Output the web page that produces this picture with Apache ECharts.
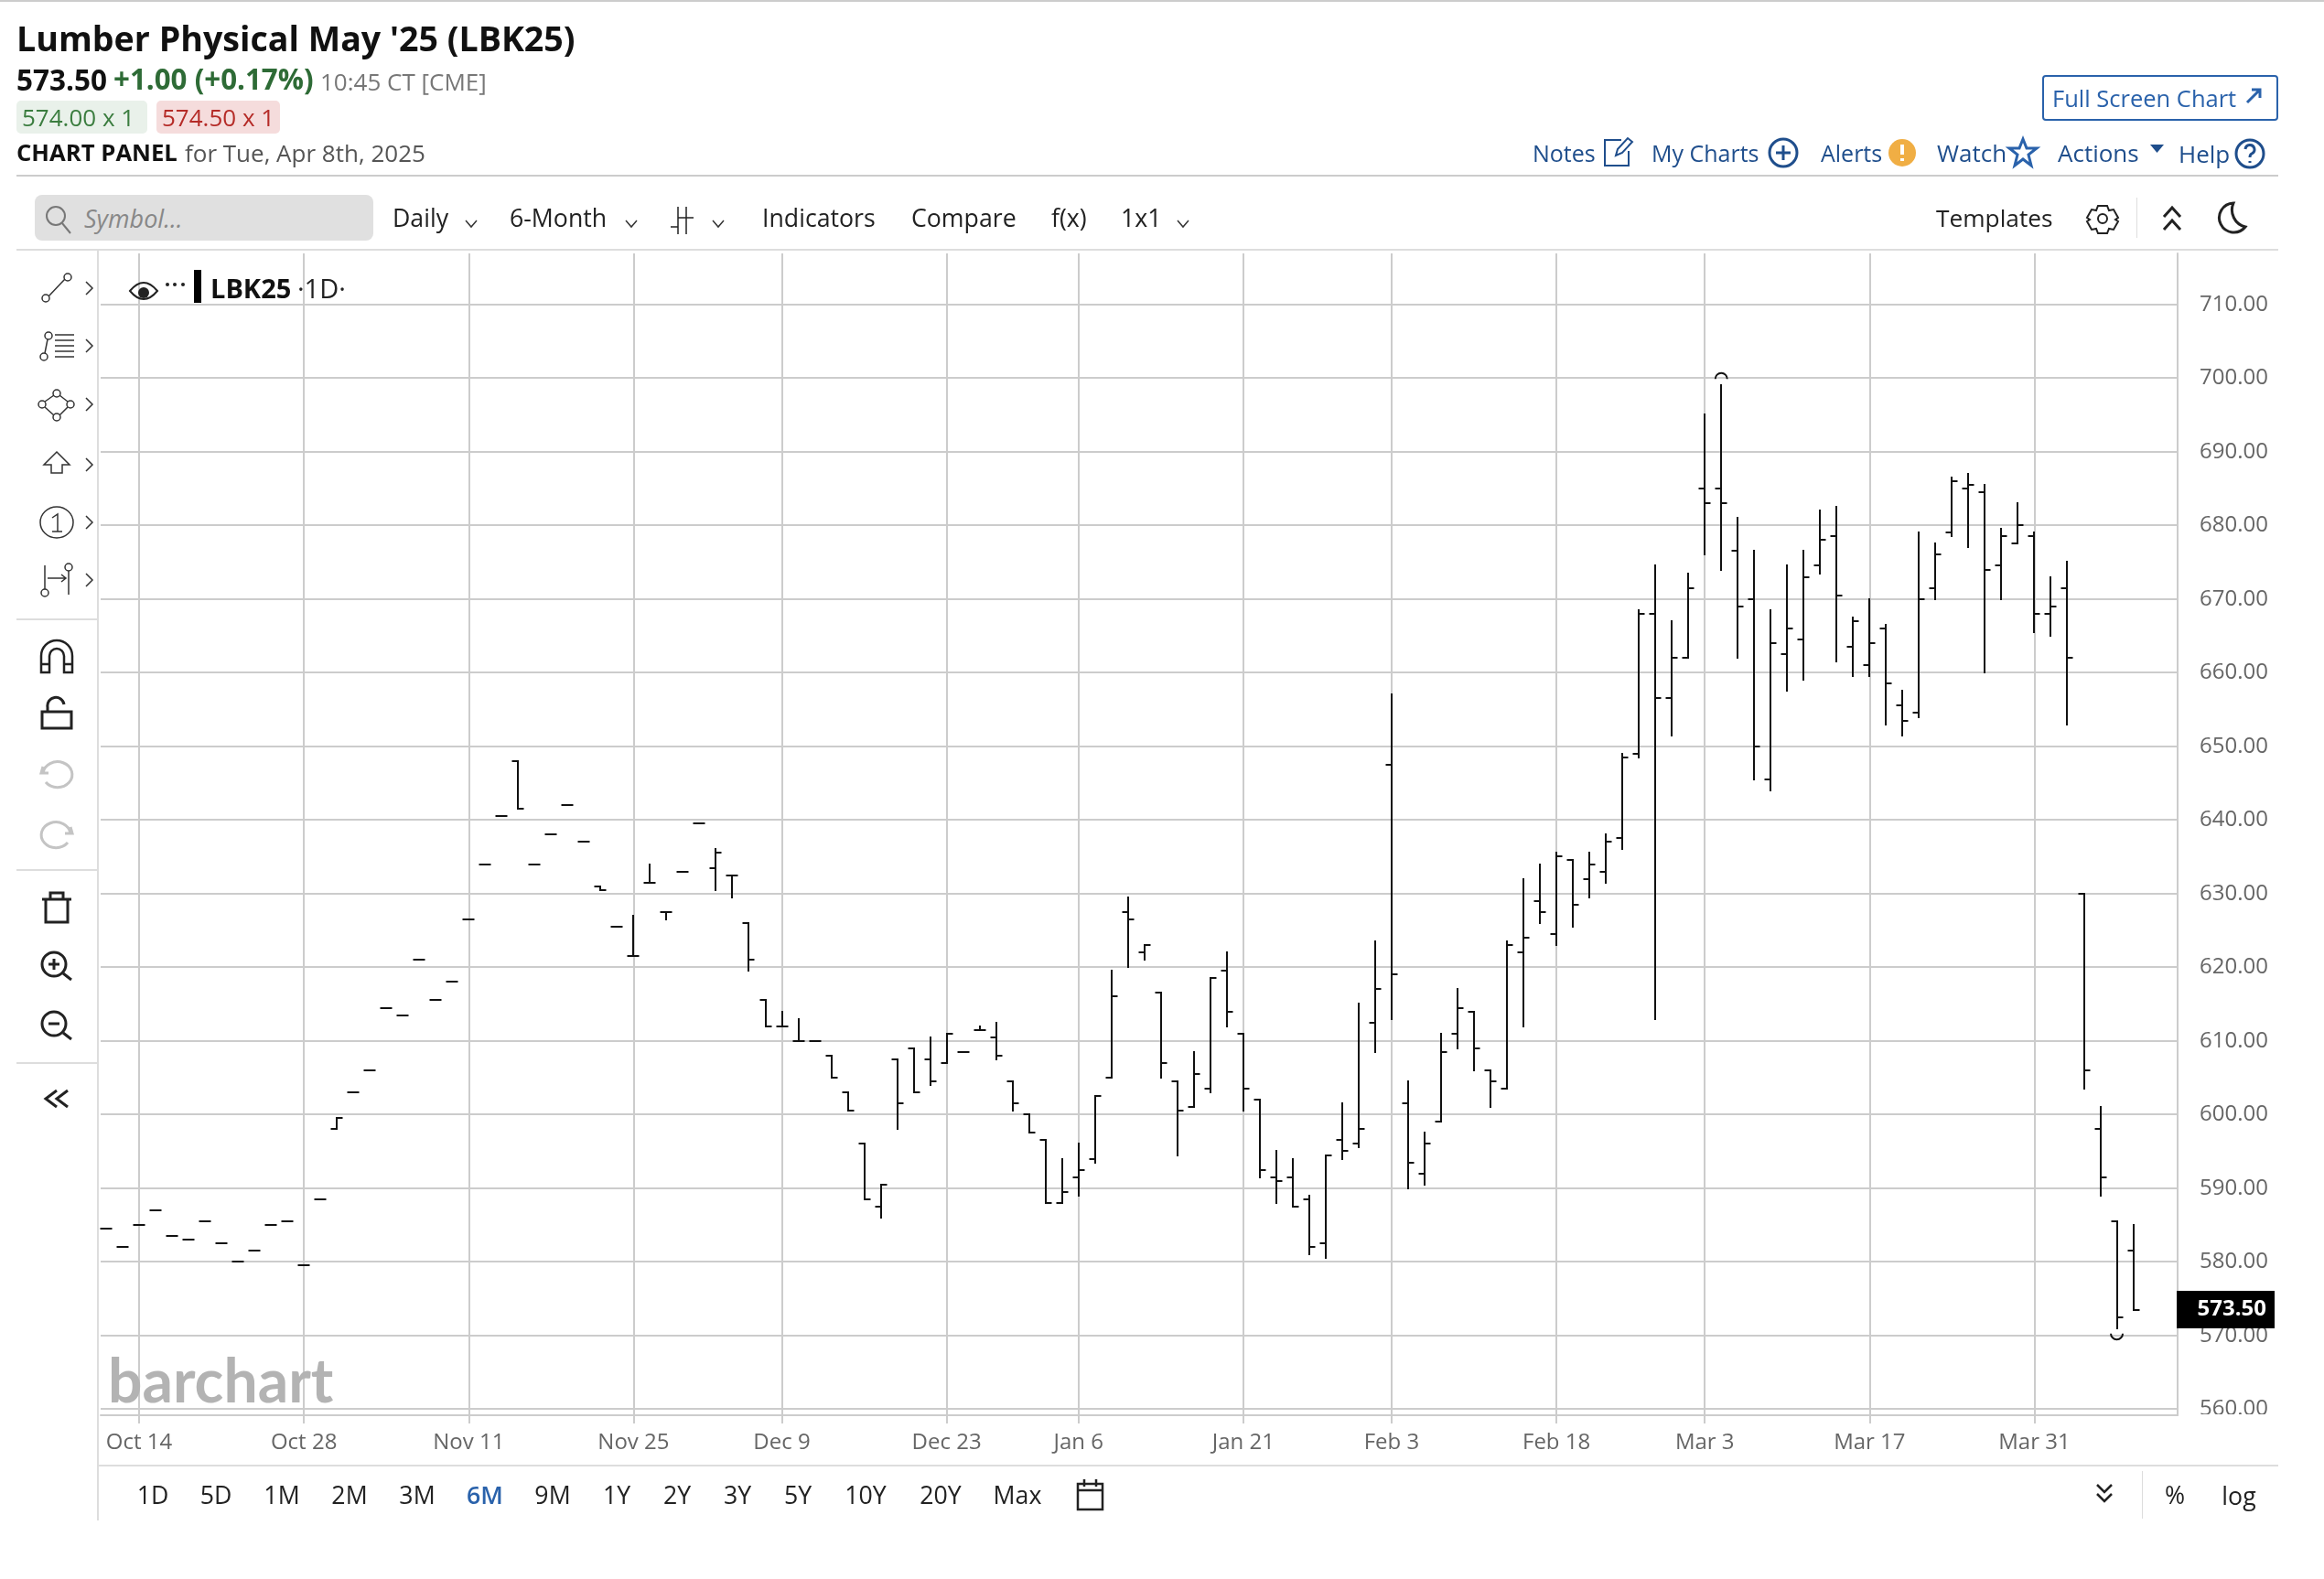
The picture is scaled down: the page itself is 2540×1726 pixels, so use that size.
<!DOCTYPE html>
<html>
<head>
<meta charset="utf-8">
<title>Lumber Physical May '25 (LBK25)</title>
<script src="https://cdn.jsdelivr.net/npm/echarts@6/dist/echarts.min.js"></script>
<style>
  html, body { margin: 0; padding: 0; background: #fff; width: 2540px; height: 1726px; overflow: hidden; }
  body { font-family: "Open Sans", sans-serif; position: relative; }
  #chart { position: absolute; left: 0; top: 0; width: 2540px; height: 1726px; }
  .t { position: absolute; white-space: nowrap; transform: translateY(-50%); line-height: 1; color: #222; font-size: 26.700px; }
  .c { transform: translate(-50%, -50%); }
  .box { position: absolute; }
  .rule { position: absolute; background: #ddd; }
  .link { color: #1f4e8c; font-size: 26px; }
  #icons { position: absolute; left: 0; top: 0; }
</style>
</head>
<body>
<div id="chart"></div>

<!-- page furniture around the chart -->
<div class="rule" style="left:0;top:0;width:2540px;height:2px;background:#ccc"></div>
<div class="t" style="left:18px;top:42px;font-size:37.600px;font-weight:700;color:#111">Lumber Physical May '25 (LBK25)</div>
<div class="t" style="left:18px;top:87px;font-size:31.500px;font-weight:700;color:#111">573.50</div>
<div class="t" style="left:124px;top:87px;font-size:31.300px;font-weight:700;color:#2e6b36">+1.00 (+0.17%)</div>
<div class="t" style="left:350px;top:89px;font-size:26px;color:#777">10:45 CT [CME]</div>
<div class="box" style="left:18px;top:110px;width:143px;height:36px;background:#e9f1ea;border-radius:5px"></div>
<div class="t" style="left:24px;top:128px;font-size:26px;color:#3b7d3f">574.00 x 1</div>
<div class="box" style="left:171px;top:110px;width:135px;height:36px;background:#f5dcdc;border-radius:5px"></div>
<div class="t" style="left:177px;top:128px;font-size:26px;color:#b52b27">574.50 x 1</div>
<div class="t" style="left:18px;top:167px;font-size:25.700px;font-weight:700;color:#111">CHART PANEL</div>
<div class="t" style="left:202px;top:167px;font-size:26px;color:#555">for Tue, Apr 8th, 2025</div>
<div class="rule" style="left:18px;top:191px;width:2472px;height:2px;background:#ccc"></div>

<div class="box" style="left:2232px;top:82px;width:254px;height:46px;border:2px solid #2a62ab;border-radius:4px"></div>
<div class="t" style="left:2243px;top:108px;font-size:25.500px;color:#2a62ab">Full Screen Chart</div>
<div class="t link" style="left:1675px;top:167px;font-size:25px">Notes</div>
<div class="t link" style="left:1805px;top:167px;font-size:25px">My Charts</div>
<div class="t link" style="left:1990px;top:167px;font-size:25px">Alerts</div>
<div class="t link" style="left:2117px;top:167px">Watch</div>
<div class="t link" style="left:2249px;top:167px">Actions</div>
<div class="t link" style="left:2381px;top:168px">Help</div>

<div class="box" style="left:38px;top:213px;width:370px;height:50px;background:#e0e0e0;border-radius:8px"></div>
<div class="t" style="left:92px;top:238px;font-size:27px;font-style:italic;color:#888">Symbol...</div>
<div class="t" style="left:429px;top:238px">Daily</div>
<div class="t" style="left:557px;top:238px">6-Month</div>
<div class="t" style="left:833px;top:238px">Indicators</div>
<div class="t" style="left:996px;top:238px">Compare</div>
<div class="t" style="left:1149px;top:238px">f(x)</div>
<div class="t" style="left:1225px;top:238px">1x1</div>
<div class="t" style="left:2116px;top:238px;font-size:26.300px">Templates</div>
<div class="rule" style="left:18px;top:272px;width:2472px;height:2px"></div>
<div class="rule" style="left:2335px;top:216px;width:1px;height:44px"></div>

<div class="rule" style="left:106px;top:274px;width:2px;height:1388px"></div>
<div class="rule" style="left:18px;top:676px;width:88px;height:2px"></div>
<div class="rule" style="left:18px;top:950px;width:88px;height:2px"></div>
<div class="rule" style="left:18px;top:1161px;width:88px;height:2px"></div>

<div class="t" style="left:230px;top:314px;font-size:29px;font-weight:700;color:#111">LBK25</div>
<div class="t" style="left:325px;top:314px;font-size:29px;color:#222">·1D·</div>

<div class="rule" style="left:107px;top:1601px;width:2383px;height:2px"></div>
<div class="t c" style="left:167px;top:1634px">1D</div>
<div class="t c" style="left:236px;top:1634px">5D</div>
<div class="t c" style="left:308px;top:1634px">1M</div>
<div class="t c" style="left:382px;top:1634px">2M</div>
<div class="t c" style="left:456px;top:1634px">3M</div>
<div class="t c" style="left:530px;top:1634px;color:#2a62ab;font-weight:600">6M</div>
<div class="t c" style="left:604px;top:1634px">9M</div>
<div class="t c" style="left:674px;top:1634px">1Y</div>
<div class="t c" style="left:740px;top:1634px">2Y</div>
<div class="t c" style="left:806px;top:1634px">3Y</div>
<div class="t c" style="left:872px;top:1634px">5Y</div>
<div class="t c" style="left:946px;top:1634px">10Y</div>
<div class="t c" style="left:1028px;top:1634px">20Y</div>
<div class="t c" style="left:1112px;top:1634px">Max</div>
<div class="t c" style="left:2377px;top:1634px">%</div>
<div class="t c" style="left:2447px;top:1635px">log</div>
<div class="rule" style="left:2341px;top:1608px;width:1px;height:52px"></div>

<svg id="icons" width="2540" height="1726" fill="none" stroke="#222" stroke-width="2">
  <!-- top bar -->
  <path d="M2456 112l14-14M2461 98h9v9" stroke="#2a62ab" stroke-width="3"/>
  <g stroke="#1f4e8c">
    <path d="M1772 153h-18v28h26v-16M1766 170l2-7 11-12 5 4-11 12z"/>
    <circle cx="1949" cy="167" r="15" stroke-width="3"/><path d="M1949 159v16M1941 167h16" stroke-width="3"/>
    <path d="M2211 152l4 10h11l-9 7 3 12-9-7-9 7 3-12-9-7h11z" stroke="#2a62ab" stroke-width="3"/>
    <path d="M2350 158h15l-7.500 9z" fill="#1f4e8c" stroke="none"/>
    <circle cx="2459" cy="168" r="15" stroke-width="3"/>
    <path d="M2454 163a5 5 0 1 1 7 5c-2 1-2 2-2 4M2459 176v2" stroke-width="3"/>
  </g>
  <circle cx="2079" cy="167" r="15" fill="#f0ae44" stroke="none"/>
  <path d="M2079 158v11M2079 173v3" stroke="#fff" stroke-width="4"/>

  <!-- toolbar -->
  <circle cx="61" cy="236" r="10" stroke="#777"/><path d="M68 244l9 11" stroke="#777"/>
  <g stroke="#333" stroke-width="1.500">
    <path d="M509 241l6 7 6-7M684 241l6 7 6-7M779 241l6 7 6-7M1287 241l6 7 6-7"/>
    <path d="M741 226v30M750 226v30M733 248h8M750 238h8M741 238h9" stroke="#222"/>
  </g>
  <g stroke="#222">
    <circle cx="2298" cy="239" r="5"/>
    <path d="M2293 225h10l2 5 5-1 5 9-3 2 3 2-5 9-5-1-2 5h-10l-2-5-5 1-5-9 3-2-3-2 5-9 5 1z"/>
    <path d="M2365 237l9-10 9 10M2365 251l9-10 9 10" stroke-width="3"/>
    <path d="M2441 222a16 16 0 1 0 13 26 19 19 0 0 1-13-26z" stroke-width="3"/>
  </g>

  <!-- drawing tools -->
  <g stroke="#333" stroke-width="1.500">
    <circle cx="50" cy="326" r="4"/><circle cx="74" cy="303" r="4"/><path d="M53 324l18-19"/>
    <circle cx="48" cy="390" r="4"/><circle cx="53" cy="367" r="4"/><path d="M49 386l3-15M60 366h21M60 372h21M60 378h21M60 384h21M60 390h21"/>
    <circle cx="46" cy="442" r="4"/><circle cx="62" cy="430" r="4"/><circle cx="77" cy="442" r="4"/><circle cx="62" cy="456" r="4"/>
    <path d="M49 439l10-7M65 432l9 7M74 445l-9 9M59 454l-10-9"/>
    <path d="M62 494l14 14h-8v9H56v-9H48z"/>
    <ellipse cx="62" cy="571" rx="18" ry="17"/>
    <path d="M57 566l6-4v19M57 581h11"/>
    <path d="M49 618v26M75 624v26M52 632h20M67 628l5 4-5 4"/><circle cx="49" cy="648" r="4"/><circle cx="75" cy="620" r="4"/>
    <path d="M94 308l7 7-7 7M94 371l7 7-7 7M94 435l7 7-7 7M94 501l7 7-7 7M94 564l7 7-7 7M94 627l7 7-7 7"/>
  </g>
  <g stroke="#222">
    <path d="M45 735v-18a17 17 0 0 1 34 0v18h-9v-18a8 8 0 0 0-16 0v18zM45 726h9M70 726h9" stroke-width="2.500"/>
    <path d="M46 778h32v18H46zM52 778v-5a9 9 0 0 1 18-3" stroke-width="3"/>
    <path d="M46 983h32M50 983v25h24v-25M55 983v-7h14v7" stroke-width="3"/>
    <circle cx="59" cy="1054" r="13" stroke-width="3"/><path d="M69 1064l9 7M53 1054h12M59 1048v12" stroke-width="3"/>
    <circle cx="59" cy="1119" r="13" stroke-width="3"/><path d="M69 1129l9 7M53 1119h12" stroke-width="3"/>
    <path d="M62 1192l-12 9 12 9M74 1192l-12 9 12 9" stroke-width="3"/>
  </g>
  <g stroke="#c4c4c4" stroke-width="3">
    <path d="M47 838l-2 7h8M47 845a16 14 0 1 1 3 10"/>
    <path d="M77 904l2 7h-8M77 911a16 14 0 1 0-3 10"/>
  </g>

  <!-- legend marks -->
  <path d="M142 318q15-18 30 0q-15 18-30 0z" stroke-width="2"/>
  <circle cx="157" cy="320" r="6" fill="#222" stroke="none"/>
  <circle cx="183" cy="311" r="2" fill="#222" stroke="none"/><circle cx="191" cy="311" r="2" fill="#222" stroke="none"/><circle cx="200" cy="311" r="2" fill="#222" stroke="none"/>
  <rect x="212" y="295" width="8" height="36" fill="#000" stroke="none"/>

  <!-- bottom bar -->
  <path d="M1178 1622h27v28h-27zM1178 1629h27M1185 1617v8M1198 1617v8" stroke-width="2.500"/>
  <path d="M2292 1623l8 8 8-8M2292 1633l8 8 8-8" stroke-width="2.500"/>
</svg>

<script>
// trading days shown on the chart
var dates = [
  'Oct 10','Oct 11','Oct 14','Oct 15','Oct 16','Oct 17','Oct 18','Oct 21','Oct 22','Oct 23',
  'Oct 24','Oct 25','Oct 28','Oct 29','Oct 30','Oct 31','Nov 1','Nov 4','Nov 5','Nov 6',
  'Nov 7','Nov 8','Nov 11','Nov 12','Nov 13','Nov 14','Nov 15','Nov 18','Nov 19','Nov 20',
  'Nov 21','Nov 22','Nov 25','Nov 26','Nov 27','Nov 29','Dec 2','Dec 3','Dec 4','Dec 5',
  'Dec 6','Dec 9','Dec 10','Dec 11','Dec 12','Dec 13','Dec 16','Dec 17','Dec 18','Dec 19',
  'Dec 20','Dec 23','Dec 24','Dec 26','Dec 27','Dec 30','Dec 31','Jan 2','Jan 3','Jan 6',
  'Jan 7','Jan 8','Jan 9','Jan 10','Jan 13','Jan 14','Jan 15','Jan 16','Jan 17','Jan 21',
  'Jan 22','Jan 23','Jan 24','Jan 27','Jan 28','Jan 29','Jan 30','Jan 31','Feb 3','Feb 4',
  'Feb 5','Feb 6','Feb 7','Feb 10','Feb 11','Feb 12','Feb 13','Feb 14','Feb 18','Feb 19',
  'Feb 20','Feb 21','Feb 24','Feb 25','Feb 26','Feb 27','Feb 28','Mar 3','Mar 4','Mar 5',
  'Mar 6','Mar 7','Mar 10','Mar 11','Mar 12','Mar 13','Mar 14','Mar 17','Mar 18','Mar 19',
  'Mar 20','Mar 21','Mar 24','Mar 25','Mar 26','Mar 27','Mar 28','Mar 31','Apr 1','Apr 2',
  'Apr 3','Apr 4','Apr 7','Apr 8'
];

var opens = [
  584.5,582,585,587,583.5,583,585.5,582.5,580,581.5,
  585,585.5,579.5,588.5,598,603,606,614.5,613.5,621,
  615.5,618,626.5,634,640.5,648,634,638,642,637,
  631,625.5,621.5,631.5,627.5,633,639.5,633.5,632.5,626,
  615.5,612,610,610,608,603,596,587.5,607.5,609,
  607.5,607,608.5,611.5,610.5,604.5,600,596.5,588,591.5,
  594,605,627.5,622,616.5,604.5,601,603.5,619.5,611,
  602,591.5,591.5,588.5,582.5,596.5,596,612.5,647.5,601.5,
  592,599,611,614,606,603.5,622,629,624.5,634.5,
  632,633,637.5,649,668,656.5,662,685,685,676.5,
  670,645.5,662.5,664.5,674.5,678.5,663.5,661,666,655.5,
  654.5,671.5,679,685,684.5,674.5,677.5,678.5,668,671.5,
  630,598,585.5,581.5
];
var highs = [
  584.5,582,585,587,583.5,583,585.5,582.5,580,581.5,
  585,585.5,579.5,588.5,599.5,603,606,614.5,613.5,621,
  615.5,618,626.5,634,640.5,648,634,638,642,637,
  631,625.5,627,634,627.5,633,639.5,636,632.5,626,
  615.5,614,613,610,608,603,596,590.5,607.5,609,
  610.5,611,608.5,612,612.5,604.5,600,596.5,594,596,
  602.5,619.5,629.5,623,616.5,604.5,608.5,618.5,622,611,
  602,595,594,589,594.5,601.5,615,623.5,657,604.5,
  597.5,611,617,614,606,623.5,632,634,635.5,634.5,
  635.5,638,649,668.5,674.5,667,673.5,695,699,681,
  676.5,668.5,674.5,676.5,682,682.5,667.5,670,666.5,657.5,
  679,677.5,686.5,687,685.5,679.5,683,679,673,675,
  630,601,585.5,585
];
var lows = [
  584.5,582,585,587,583.5,583,585.5,582.5,580,581.5,
  585,585.5,579.5,588.5,598,603,606,614.5,613.5,621,
  615.5,618,626.5,634,640.5,641.5,634,638,642,637,
  630.5,625.5,621.5,631.5,626.5,633,639.5,630.5,629.5,619.5,
  612,612,610,610,605,600.5,588.5,586,598,603,
  604,607,608.5,611.5,607.5,600.5,597.5,588,588,589,
  593.5,605,620,621,605,594.5,601,603,612,600.5,
  591.5,588,587.5,581,580.5,594,595.5,608.5,613,590,
  590.5,599,609,606,601,603.5,612,626,623,625.5,
  629.5,631.5,636,648.5,613,651.5,662,676,674,662,
  645.5,644,657.5,659,673.5,661.5,659.5,659.5,653,651.5,
  654,670,678.5,677,660,670,677.5,665.5,665,653,
  603.5,589,571,573.5
];
var closes = [
  584.5,582,585,587,583.5,583,585.5,582.5,580,581.5,
  585,585.5,579.5,588.5,599.5,603,606,614.5,613.5,621,
  615.5,618,626.5,634,640.5,641.5,634,638,642,637,
  630.5,625.5,621.5,631.5,627.5,633,639.5,635.5,632.5,621,
  612,612,610,610,605,600.5,588.5,590.5,601.5,603,
  604.5,611,608.5,611.5,608,601.5,597.5,588,589.5,592.5,
  602.5,616,626.5,623,607,600.5,605.5,618.5,614,603.5,
  592.5,591,587.5,582,594.5,595,598,617,619,593.5,
  596,608.5,614.5,609,604.5,623,624,627.5,635,628.5,
  634,637,648.5,668,656.5,662,671.5,683,683,669,
  650,664,666,673,678,670.5,667,664,658.5,653.5,
  670,676,686,685.5,674,678.5,680,668,669,662,
  606,591.5,572.5,573.5
];

// contract high and low arcs
var extremeDays = ['Mar 4', 'Apr 7'];
var extremeValues = [700, 570];
var extremeSides = ['high', 'low'];

var tickDates = ['Oct 14','Oct 28','Nov 11','Nov 25','Dec 9','Dec 23','Jan 6','Jan 21','Feb 3','Feb 18','Mar 3','Mar 17','Mar 31'];
var priceTicks = [560,570,580,590,600,610,620,630,640,650,660,670,680,690,700,710];
var lastPrice = 573.5;

var tickIndexes = tickDates.map(function (d) { return dates.indexOf(d); });

var ohlcData = dates.map(function (d, i) {
  return [i, opens[i], highs[i], lows[i], closes[i]];
});
var extremeData = extremeDays.map(function (d, i) {
  return [dates.indexOf(d), extremeValues[i], extremeSides[i] === 'high' ? 1 : -1];
});

var barColor = '#111';

function renderBar(params, api) {
  var i = api.value(0);
  var x = Math.round(api.coord([i, 0])[0]);
  var o = Math.round(api.coord([i, api.value(1)])[1]);
  var h = Math.round(api.coord([i, api.value(2)])[1]);
  var l = Math.round(api.coord([i, api.value(3)])[1]);
  var c = Math.round(api.coord([i, api.value(4)])[1]);
  var style = { stroke: barColor, lineWidth: 2 };
  return {
    type: 'group',
    children: [
      { type: 'line', shape: { x1: x, y1: h - 1, x2: x, y2: l + 1 }, style: style, invisible: h === l },
      { type: 'line', shape: { x1: x - 6.5, y1: o, x2: x, y2: o }, style: style },
      { type: 'line', shape: { x1: x, y1: c, x2: x + 6.5, y2: c }, style: style }
    ]
  };
}

function renderExtreme(params, api) {
  var p = api.coord([api.value(0), api.value(1)]);
  var up = api.value(2) > 0;
  return {
    type: 'arc',
    shape: {
      cx: p[0], cy: p[1] + (up ? 1 : -2), r: 6.5,
      startAngle: up ? Math.PI : 0,
      endAngle: up ? Math.PI * 2 : Math.PI
    },
    style: { stroke: barColor, lineWidth: 2, fill: null }
  };
}

function renderLast(params, api) {
  var y = api.coord([0, api.value(0)])[1];
  var r = params.coordSys;
  var x = r.x + r.width;
  return {
    type: 'group',
    children: [
      { type: 'rect', shape: { x: x - 1, y: y - 20.5, width: 107, height: 41 }, style: { fill: '#000' } },
      { type: 'text', style: { x: x + 97, y: y, text: api.value(0).toFixed(2), align: 'right', verticalAlign: 'middle', fill: '#fff', font: '700 24px "Open Sans"' } }
    ]
  };
}

var chart = echarts.init(document.getElementById('chart'));

chart.setOption({
  animation: false,
  grid: { left: 110, top: 277, right: 160, bottom: 179 },
  xAxis: {
    type: 'value',
    min: -0.333,
    max: 125.69,
    axisLine: { show: true, onZero: false, lineStyle: { color: '#ccc', width: 2 } },
    axisTick: { show: true, length: 9, lineStyle: { color: '#ccc', width: 2 }, customValues: tickIndexes },
    splitLine: { show: true, lineStyle: { color: '#ccc', width: 2 } },
    axisLabel: {
      customValues: tickIndexes,
      margin: 18,
      color: '#666',
      fontFamily: 'Open Sans',
      fontSize: 24,
      hideOverlap: false,
      formatter: function (v) { return dates[v]; }
    }
  },
  yAxis: {
    type: 'value',
    position: 'right',
    min: 559.16,
    max: 716.92,
    axisLine: { show: true, onZero: false, lineStyle: { color: '#ccc', width: 2 } },
    axisTick: { show: false, customValues: priceTicks },
    splitLine: { show: true, lineStyle: { color: '#ccc', width: 2 } },
    axisLabel: {
      customValues: priceTicks,
      margin: 24,
      padding: [6, 0, 0, 0],
      color: '#666',
      fontFamily: 'Open Sans',
      fontSize: 24,
      formatter: function (v) { return v.toFixed(2); }
    }
  },
  // the 560 label is cut off by the panel edge, and the watermark sits on the grid
  graphic: [
    { type: 'rect', z: 100, shape: { x: 2382, y: 1546, width: 130, height: 30 }, style: { fill: '#fff' } },
    { type: 'text', z: 1, x: 118, y: 1479, style: { text: 'barchart', fill: '#b3b3b3', font: '700 66px Lato' } }
  ],
  series: [
    {
      type: 'custom',
      name: 'LBK25',
      renderItem: renderBar,
      data: ohlcData,
      encode: { x: 0, y: [1, 2, 3, 4] },
      clip: false
    },
    {
      type: 'custom',
      name: 'Extremes',
      renderItem: renderExtreme,
      data: extremeData,
      encode: { x: 0, y: 1 },
      clip: false
    },
    {
      type: 'custom',
      name: 'Last',
      z: 10,
      renderItem: renderLast,
      data: [[lastPrice]],
      encode: { y: 0 },
      clip: false
    }
  ]
});
</script>
</body>
</html>
